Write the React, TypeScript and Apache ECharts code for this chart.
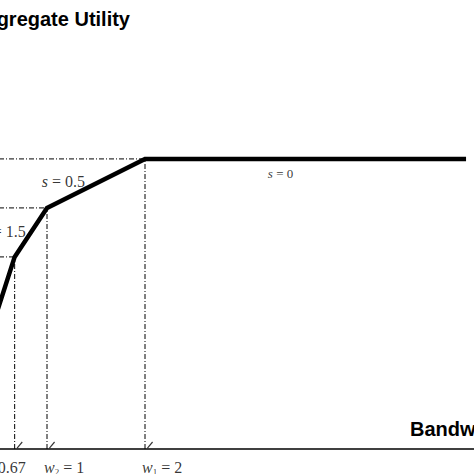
import { useEffect, useRef } from 'react';
import * as echarts from 'echarts';

// piecewise-linear aggregate utility (bandwidth, utility)
const bandwidth = [0.5, 0.67, 1, 2, 5.276];
const utility = [1.43, 1.96, 2.46, 2.96, 2.96];

// break points w3, w2, w1 with their utilities
const breakX = [0.67, 1, 2];
const breakU = [1.96, 2.46, 2.96];
const breakNames = [['3', '0.67'], ['2', '1'], ['1', '2']];

// slope labels for segments 0.67-1, 1-2, 2-end
const slopeLabels = ['1.5', '0.5', '0'];

const PX = 98; // pixels per data unit (both axes)

const App: React.FC = () => {
    const chartRef = useRef<HTMLDivElement>(null);

    useEffect(() => {
        if (!chartRef.current) return;
        const chart = echarts.init(chartRef.current, undefined, { renderer: 'svg' });

        const serif = 'Liberation Serif';
        const sans = 'Liberation Sans';
        const dashDot = { color: '#000', width: 1, type: [5, 2, 1, 2] as number[] };

        const guides: any[] = [];
        breakX.forEach((bx, i) => {
            guides.push({
                type: 'line', silent: true, symbol: 'none',
                lineStyle: dashDot,
                data: [[bx, 0], [bx, breakU[i]]]
            });
            guides.push({
                type: 'line', silent: true, symbol: 'none',
                lineStyle: dashDot,
                data: [[0, breakU[i]], [bx, breakU[i]]]
            });
        });

        const segStart = 1;
        const slopeOffsets = [[-5, -1], [-11, -2], [-25, 15]];
        const slopeAlign = ['right', 'right', 'center'];
        const slopeSize = [16, 16, 13];
        const slopeData = slopeLabels.map((s, i) => {
            const a = segStart + i;
            return {
                value: [(bandwidth[a] + bandwidth[a + 1]) / 2, (utility[a] + utility[a + 1]) / 2],
                label: {
                    show: true,
                    position: 'inside',
                    align: slopeAlign[i],
                    offset: slopeOffsets[i],
                    color: '#000',
                    textBorderWidth: 0,
                    fontFamily: serif,
                    fontSize: slopeSize[i],
                    formatter: `{i|s}{n| = ${s}}`,
                    rich: {
                        i: { fontStyle: 'italic', fontFamily: serif, fontSize: slopeSize[i], color: '#000' },
                        n: { fontFamily: serif, fontSize: slopeSize[i], color: '#000' }
                    }
                }
            };
        });

        const tickLabelData = breakX.map((bx, i) => ({
            value: [bx, 0],
            label: {
                show: true,
                position: 'inside',
                align: i === 0 ? 'right' : 'left',
                offset: i === 0 ? [11, 18] : [-3, 18],
                color: '#000',
                textBorderWidth: 0,
                formatter: `{w|w}{sub|${breakNames[i][0]}}{n| = ${breakNames[i][1]}}`,
                rich: {
                    w: { fontStyle: 'italic', fontFamily: serif, fontSize: 16, color: '#000', lineHeight: 18 },
                    sub: { fontFamily: serif, fontSize: 9, color: '#000', verticalAlign: 'bottom', lineHeight: 18, padding: [6, 0, 0, 0] },
                    n: { fontFamily: serif, fontSize: 16, color: '#000', lineHeight: 18 }
                }
            }
        }));

        chart.setOption({
            animation: false,
            grid: { left: 0, right: 0, top: 0, bottom: 25 },
            xAxis: {
                type: 'value',
                min: 51 / PX,
                max: (474 + 51) / PX,
                axisLine: { show: true, lineStyle: { color: '#000', width: 1.5 } },
                axisTick: { show: false },
                axisLabel: { show: false },
                splitLine: { show: false }
            },
            yAxis: {
                type: 'value',
                min: 0,
                max: 449 / PX,
                show: false,
                splitLine: { show: false }
            },
            graphic: [
                {
                    type: 'text', x: 130, y: 19,
                    style: {
                        text: 'Aggregate Utility', align: 'right', verticalAlign: 'middle',
                        fontFamily: sans, fontSize: 20, fontWeight: 'bold', fill: '#000'
                    }
                },
                {
                    type: 'text', x: 410, y: 429,
                    style: {
                        text: 'Bandwidth', align: 'left', verticalAlign: 'middle',
                        fontFamily: sans, fontSize: 20, fontWeight: 'bold', fill: '#000'
                    }
                }
            ],
            series: [
                ...guides,
                {
                    type: 'line',
                    symbol: 'none',
                    silent: true,
                    lineStyle: { color: '#000', width: 4.5, join: 'miter' },
                    data: bandwidth.map((b, i) => [b, utility[i]])
                },
                {
                    type: 'scatter',
                    silent: true,
                    symbol: 'path://M0,7 L6,0 L7,1 L1,8 Z',
                    symbolSize: [6, 7],
                    symbolOffset: [5, -4],
                    itemStyle: { color: '#000' },
                    data: breakX.map(bx => [bx, 0])
                },
                {
                    type: 'scatter',
                    silent: true,
                    symbolSize: 0,
                    data: slopeData
                },
                {
                    type: 'scatter',
                    silent: true,
                    symbolSize: 0,
                    data: tickLabelData
                }
            ]
        });

        return () => chart.dispose();
    }, []);

    return (
        <div
            ref={chartRef}
            style={{ position: 'absolute', left: 0, top: 0, width: 474, height: 474, background: '#fff' }}
        />
    );
};

export default App;
